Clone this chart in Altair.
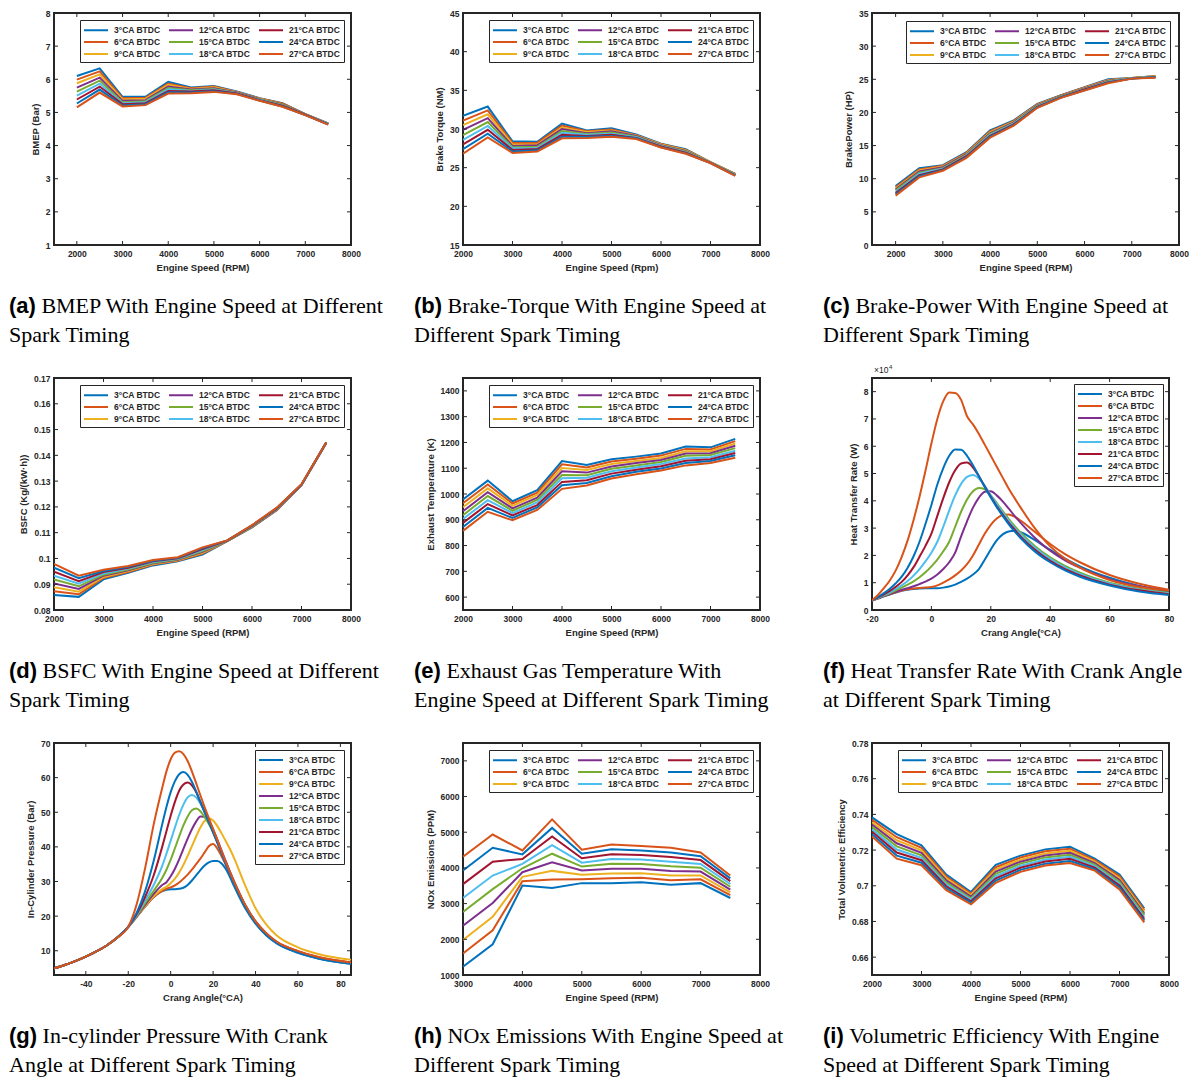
import altair as alt
import pandas as pd

# MATLAB default line colours
BLUE = "#0072BD"
ORANGE = "#D95319"
YELLOW = "#EDB120"
PURPLE = "#7E2F8E"
GREEN = "#77AC30"
SKY = "#4DBEEE"
RED = "#A2142F"
INK = "#262626"

TIMING = ["3°CA BTDC", "6°CA BTDC", "9°CA BTDC", "12°CA BTDC", "15°CA BTDC",
          "18°CA BTDC", "21°CA BTDC", "24°CA BTDC", "27°CA BTDC"]
TIMING_COLORS = [BLUE, ORANGE, YELLOW, PURPLE, GREEN, SKY, RED, BLUE, ORANGE]
HT_TIMING = ["3°CA BTDC", "6°CA BTDC", "12°CA BTDC", "15°CA BTDC",
             "18°CA BTDC", "21°CA BTDC", "24°CA BTDC", "27°CA BTDC"]
HT_COLORS = [BLUE, ORANGE, PURPLE, GREEN, SKY, RED, BLUE, ORANGE]

RPM = [2000, 2500, 3000, 3500, 4000, 4500, 5000, 5500, 6000, 6500, 7000, 7500]
RPM_NOX = [3000, 3500, 4000, 4500, 5000, 5500, 6000, 6500, 7000, 7500]

# one row per engine speed, one value per spark timing (3° ... 27° BTDC)
BMEP = [
    [6.10, 5.99, 5.88, 5.75, 5.63, 5.51, 5.39, 5.27, 5.15],
    [6.33, 6.24, 6.15, 6.05, 5.96, 5.87, 5.78, 5.69, 5.60],
    [5.47, 5.43, 5.39, 5.35, 5.31, 5.28, 5.25, 5.21, 5.18],
    [5.47, 5.44, 5.41, 5.37, 5.34, 5.31, 5.28, 5.25, 5.22],
    [5.92, 5.87, 5.83, 5.78, 5.74, 5.70, 5.65, 5.61, 5.57],
    [5.75, 5.73, 5.71, 5.69, 5.67, 5.65, 5.63, 5.60, 5.58],
    [5.80, 5.78, 5.76, 5.73, 5.71, 5.69, 5.67, 5.64, 5.62],
    [5.63, 5.62, 5.61, 5.60, 5.59, 5.58, 5.57, 5.56, 5.55],
    [5.43, 5.42, 5.41, 5.40, 5.39, 5.38, 5.37, 5.36, 5.35],
    [5.28, 5.27, 5.25, 5.24, 5.23, 5.21, 5.20, 5.18, 5.17],
    [4.95, 4.95, 4.94, 4.94, 4.94, 4.93, 4.93, 4.92, 4.92],
    [4.67, 4.67, 4.66, 4.66, 4.65, 4.65, 4.64, 4.64, 4.63],
]
TORQUE = [
    [31.7, 31.1, 30.5, 29.9, 29.2, 28.6, 28.0, 27.4, 26.8],
    [32.9, 32.4, 31.9, 31.4, 30.9, 30.4, 29.9, 29.4, 28.9],
    [28.4, 28.2, 28.0, 27.8, 27.65, 27.5, 27.3, 27.1, 26.9],
    [28.35, 28.2, 28.0, 27.9, 27.7, 27.55, 27.4, 27.25, 27.1],
    [30.7, 30.45, 30.2, 30.0, 29.75, 29.5, 29.25, 29.0, 28.8],
    [29.8, 29.7, 29.6, 29.45, 29.35, 29.25, 29.1, 29.0, 28.85],
    [30.1, 29.95, 29.8, 29.7, 29.55, 29.4, 29.25, 29.1, 29.0],
    [29.3, 29.2, 29.15, 29.1, 29.0, 28.95, 28.85, 28.8, 28.7],
    [28.1, 28.05, 28.0, 27.9, 27.85, 27.8, 27.75, 27.65, 27.6],
    [27.4, 27.3, 27.25, 27.15, 27.1, 27.0, 26.95, 26.85, 26.8],
    [25.7, 25.7, 25.7, 25.65, 25.65, 25.65, 25.6, 25.6, 25.6],
    [24.2, 24.2, 24.15, 24.1, 24.1, 24.05, 24.0, 24.0, 23.95],
]
POWER = [
    [8.9, 8.7, 8.5, 8.35, 8.2, 8.0, 7.85, 7.65, 7.45],
    [11.6, 11.4, 11.25, 11.1, 10.9, 10.75, 10.55, 10.4, 10.2],
    [12.05, 11.95, 11.85, 11.75, 11.6, 11.5, 11.4, 11.3, 11.2],
    [14.0, 13.9, 13.8, 13.7, 13.6, 13.5, 13.4, 13.25, 13.15],
    [17.3, 17.15, 17.0, 16.85, 16.75, 16.6, 16.45, 16.35, 16.2],
    [18.8, 18.7, 18.6, 18.5, 18.4, 18.3, 18.2, 18.1, 18.0],
    [21.3, 21.2, 21.15, 21.05, 21.0, 20.9, 20.85, 20.75, 20.7],
    [22.6, 22.55, 22.5, 22.45, 22.4, 22.35, 22.3, 22.25, 22.2],
    [23.8, 23.75, 23.7, 23.6, 23.55, 23.5, 23.45, 23.35, 23.3],
    [25.0, 24.9, 24.85, 24.8, 24.7, 24.65, 24.55, 24.5, 24.4],
    [25.2, 25.2, 25.2, 25.15, 25.15, 25.15, 25.1, 25.1, 25.1],
    [25.5, 25.45, 25.45, 25.4, 25.4, 25.35, 25.3, 25.3, 25.25],
]
BSFC = [
    [0.0858, 0.0873, 0.0888, 0.0903, 0.0918, 0.0933, 0.0949, 0.0964, 0.0979],
    [0.0851, 0.0861, 0.0871, 0.0882, 0.0892, 0.0902, 0.0912, 0.0923, 0.0933],
    [0.0919, 0.0924, 0.0928, 0.0933, 0.0937, 0.0942, 0.0947, 0.0951, 0.0956],
    [0.0944, 0.0947, 0.0951, 0.0954, 0.0957, 0.0961, 0.0964, 0.0968, 0.0971],
    [0.0973, 0.0976, 0.0978, 0.0981, 0.0983, 0.0986, 0.0989, 0.0991, 0.0994],
    [0.0989, 0.0991, 0.0993, 0.0995, 0.0997, 0.0999, 0.1001, 0.1003, 0.1005],
    [0.1015, 0.1019, 0.1022, 0.1026, 0.1029, 0.1033, 0.1036, 0.1040, 0.1043],
    [0.1067, 0.1067, 0.1068, 0.1068, 0.1068, 0.1069, 0.1069, 0.1070, 0.1070],
    [0.1120, 0.1121, 0.1122, 0.1123, 0.1124, 0.1126, 0.1127, 0.1128, 0.1129],
    [0.1187, 0.1188, 0.1189, 0.1190, 0.1192, 0.1193, 0.1194, 0.1196, 0.1197],
    [0.1284, 0.1284, 0.1285, 0.1285, 0.1286, 0.1286, 0.1287, 0.1287, 0.1288],
    [0.1448, 0.1448, 0.1449, 0.1449, 0.1449, 0.1450, 0.1450, 0.1451, 0.1451],
]
EXHAUST_T = [
    [979, 964, 949, 933, 918, 903, 888, 872, 857],
    [1052, 1037, 1022, 1007, 992, 976, 961, 946, 931],
    [972, 963, 954, 944, 935, 926, 917, 907, 898],
    [1015, 1005, 996, 986, 977, 967, 957, 948, 938],
    [1128, 1115, 1101, 1088, 1074, 1061, 1047, 1034, 1020],
    [1113, 1103, 1093, 1083, 1073, 1063, 1053, 1043, 1033],
    [1135, 1126, 1116, 1107, 1098, 1088, 1079, 1069, 1060],
    [1145, 1137, 1128, 1120, 1111, 1103, 1094, 1086, 1077],
    [1157, 1149, 1140, 1132, 1124, 1116, 1108, 1099, 1091],
    [1184, 1175, 1166, 1157, 1148, 1138, 1129, 1120, 1111],
    [1181, 1173, 1166, 1158, 1151, 1143, 1135, 1128, 1120],
    [1214, 1205, 1196, 1187, 1178, 1168, 1159, 1150, 1141],
]
NOX = [
    [1231, 1602, 1981, 2380, 2768, 3157, 3546, 3926, 4315],
    [1861, 2250, 2630, 3019, 3407, 3787, 4176, 4565, 4935],
    [3509, 3630, 3750, 3880, 3991, 4111, 4250, 4380, 4491],
    [3435, 3676, 3917, 4157, 4398, 4639, 4880, 5120, 5361],
    [3574, 3685, 3806, 3926, 4037, 4148, 4269, 4398, 4509],
    [3574, 3710, 3845, 3980, 4115, 4250, 4385, 4520, 4657],
    [3602, 3728, 3854, 3980, 4107, 4233, 4359, 4485, 4611],
    [3528, 3657, 3787, 3917, 4046, 4176, 4305, 4435, 4565],
    [3574, 3682, 3789, 3897, 4005, 4112, 4220, 4327, 4435],
    [3157, 3236, 3314, 3393, 3472, 3550, 3630, 3708, 3787],
]
VOL_EFF = [
    [0.7383, 0.7370, 0.7356, 0.7343, 0.7330, 0.7316, 0.7303, 0.7289, 0.7276],
    [0.7289, 0.7272, 0.7255, 0.7238, 0.7221, 0.7203, 0.7186, 0.7169, 0.7152],
    [0.7226, 0.7212, 0.7198, 0.7184, 0.7171, 0.7157, 0.7143, 0.7129, 0.7115],
    [0.7063, 0.7052, 0.7041, 0.7030, 0.7019, 0.7008, 0.6997, 0.6986, 0.6975],
    [0.6965, 0.6956, 0.6948, 0.6939, 0.6930, 0.6922, 0.6913, 0.6905, 0.6896],
    [0.7117, 0.7104, 0.7092, 0.7079, 0.7067, 0.7054, 0.7042, 0.7029, 0.7017],
    [0.7169, 0.7158, 0.7146, 0.7135, 0.7124, 0.7112, 0.7101, 0.7089, 0.7078],
    [0.7204, 0.7193, 0.7181, 0.7170, 0.7159, 0.7147, 0.7136, 0.7124, 0.7113],
    [0.7219, 0.7208, 0.7196, 0.7185, 0.7174, 0.7162, 0.7151, 0.7139, 0.7128],
    [0.7152, 0.7144, 0.7135, 0.7127, 0.7119, 0.7110, 0.7102, 0.7093, 0.7085],
    [0.7063, 0.7053, 0.7042, 0.7032, 0.7022, 0.7011, 0.7001, 0.6990, 0.6980],
    [0.6874, 0.6864, 0.6854, 0.6844, 0.6835, 0.6825, 0.6815, 0.6805, 0.6795],
]

# heat transfer rate (x10^4 W), one list per timing in HT_TIMING
HT_ANGLE = [-20, -18, -16, -14, -12, -10, -8, -6, -4, -2, 0, 2, 4, 6, 8, 10, 12, 14, 16,
            18, 20, 22, 24, 26, 28, 30, 35, 40, 45, 50, 60, 70, 80]
HEAT_RATE = [
    [0.35, 0.42, 0.50, 0.57, 0.64, 0.70, 0.74, 0.77, 0.79, 0.80, 0.80, 0.80, 0.82, 0.86, 0.93, 1.03, 1.15,
     1.30, 1.50, 1.85, 2.22, 2.55, 2.77, 2.88, 2.90, 2.85, 2.55, 2.20, 1.88, 1.60, 1.18, 0.88, 0.67],
    [0.35, 0.43, 0.51, 0.58, 0.65, 0.71, 0.76, 0.79, 0.81, 0.82, 0.84, 0.90, 1.00, 1.12, 1.27, 1.45, 1.68,
     2.00, 2.40, 2.80, 3.12, 3.35, 3.48, 3.50, 3.42, 3.28, 2.85, 2.42, 2.05, 1.75, 1.28, 0.96, 0.74],
    [0.35, 0.43, 0.51, 0.59, 0.67, 0.74, 0.80, 0.87, 0.95, 1.04, 1.15, 1.30, 1.50, 1.75, 2.10, 2.70, 3.25,
     3.75, 4.12, 4.33, 4.35, 4.20, 3.98, 3.72, 3.45, 3.20, 2.63, 2.17, 1.82, 1.55, 1.13, 0.87, 0.70],
    [0.35, 0.44, 0.53, 0.62, 0.72, 0.82, 0.93, 1.05, 1.20, 1.38, 1.60, 1.85, 2.15, 2.50, 3.05, 3.60, 4.05,
     4.35, 4.47, 4.42, 4.20, 3.92, 3.62, 3.34, 3.08, 2.84, 2.33, 1.93, 1.62, 1.37, 1.00, 0.78, 0.63],
    [0.35, 0.45, 0.55, 0.65, 0.77, 0.90, 1.06, 1.26, 1.50, 1.78, 2.10, 2.50, 3.05, 3.65, 4.20, 4.62, 4.88,
     4.95, 4.82, 4.55, 4.20, 3.88, 3.57, 3.28, 3.02, 2.78, 2.27, 1.87, 1.56, 1.32, 0.97, 0.75, 0.60],
    [0.35, 0.46, 0.57, 0.70, 0.85, 1.03, 1.27, 1.57, 1.95, 2.35, 2.80, 3.45, 4.10, 4.68, 5.12, 5.37, 5.40,
     5.22, 4.90, 4.52, 4.15, 3.80, 3.50, 3.20, 2.95, 2.70, 2.20, 1.80, 1.50, 1.27, 0.93, 0.72, 0.58],
    [0.35, 0.48, 0.62, 0.78, 0.98, 1.22, 1.55, 1.97, 2.50, 3.15, 3.85, 4.60, 5.20, 5.65, 5.88, 5.87, 5.65,
     5.30, 4.90, 4.50, 4.12, 3.77, 3.45, 3.15, 2.88, 2.64, 2.13, 1.75, 1.45, 1.22, 0.90, 0.68, 0.55],
    [0.35, 0.55, 0.80, 1.08, 1.45, 1.95, 2.55, 3.30, 4.15, 5.10, 6.10, 7.00, 7.65, 7.97, 7.95, 7.70, 7.10,
     6.80, 6.45, 6.05, 5.65, 5.25, 4.85, 4.45, 4.10, 3.76, 2.97, 2.33, 1.88, 1.55, 1.10, 0.84, 0.72],
]

# in-cylinder pressure (bar), one list per timing in TIMING
P_ANGLE = [-55, -50, -45, -40, -35, -30, -25, -20, -16, -12, -8, -4, -2, 0, 2, 4, 6, 8, 10, 12,
           14, 16, 18, 20, 22, 24, 26, 28, 30, 35, 40, 45, 50, 60, 70, 85]
PRESSURE = [
    [4.9, 5.9, 7.0, 8.3, 9.8, 11.6, 13.9, 16.9, 19.8, 22.8, 25.5, 27.2, 27.6, 27.8, 27.8, 27.9, 28.2, 29.0,
     30.3, 31.8, 33.3, 34.6, 35.5, 35.9, 35.9, 35.2, 33.6, 31.2, 28.5, 22.4, 17.8, 14.5, 12.1, 9.4, 7.7, 6.2],
    [4.9, 5.9, 7.0, 8.3, 9.8, 11.6, 13.9, 16.9, 19.8, 22.8, 25.5, 27.3, 27.9, 28.3, 28.9, 29.7, 30.8, 32.0,
     33.4, 35.0, 36.6, 38.4, 40.2, 40.8, 39.5, 37.3, 34.8, 32.2, 29.6, 23.3, 18.5, 15.1, 12.6, 9.9, 8.1, 6.6],
    [4.9, 5.9, 7.0, 8.3, 9.8, 11.6, 13.9, 16.9, 19.9, 23.0, 25.8, 27.8, 28.5, 29.5, 30.8, 32.6, 34.8, 37.4,
     40.2, 43.0, 45.6, 47.5, 48.2, 47.6, 46.0, 43.9, 41.6, 39.3, 36.6, 29.0, 22.3, 17.6, 14.4, 11.0, 9.0, 7.4],
    [4.9, 5.9, 7.0, 8.3, 9.8, 11.6, 13.9, 16.9, 20.0, 23.3, 26.4, 29.0, 29.8, 31.5, 33.7, 36.4, 39.4, 42.4,
     45.1, 47.3, 48.8, 48.7, 47.3, 45.0, 42.0, 38.9, 35.8, 32.8, 29.9, 23.4, 18.5, 15.0, 12.5, 9.8, 8.0, 6.5],
    [4.9, 5.9, 7.0, 8.3, 9.8, 11.6, 13.9, 16.9, 20.1, 23.8, 27.3, 31.0, 33.4, 36.3, 39.6, 43.0, 46.2, 48.8,
     50.6, 51.1, 50.3, 48.6, 46.6, 44.2, 41.3, 38.3, 35.3, 32.4, 29.6, 23.2, 18.3, 14.9, 12.4, 9.7, 7.9, 6.5],
    [4.9, 5.9, 7.0, 8.3, 9.8, 11.6, 13.9, 16.9, 20.3, 24.5, 29.0, 34.5, 38.0, 41.8, 45.6, 49.2, 52.2, 54.3,
     55.0, 54.3, 52.5, 50.0, 47.3, 44.4, 41.4, 38.3, 35.2, 32.2, 29.4, 23.1, 18.2, 14.8, 12.3, 9.6, 7.8, 6.4],
    [4.9, 5.9, 7.0, 8.3, 9.8, 11.6, 13.9, 16.9, 20.6, 25.6, 31.8, 40.0, 44.5, 49.0, 53.0, 56.2, 58.0, 58.6,
     57.8, 55.8, 53.0, 50.2, 47.3, 44.4, 41.4, 38.3, 35.2, 32.2, 29.4, 23.1, 18.3, 14.9, 12.4, 9.7, 7.9, 6.5],
    [4.9, 5.9, 7.0, 8.3, 9.8, 11.6, 13.9, 16.9, 21.0, 27.3, 36.0, 46.5, 51.5, 55.8, 59.0, 61.0, 61.6, 60.8,
     58.8, 56.0, 53.0, 50.0, 47.1, 44.2, 41.2, 38.1, 35.0, 32.0, 29.2, 22.9, 18.0, 14.6, 12.2, 9.5, 7.7, 6.3],
    [4.9, 5.9, 7.0, 8.3, 9.8, 11.6, 13.9, 16.9, 23.5, 34.0, 46.5, 57.0, 61.8, 65.3, 67.2, 67.6, 66.8, 64.8,
     61.8, 58.4, 54.9, 51.5, 48.3, 45.2, 42.0, 38.8, 35.6, 32.6, 29.8, 23.4, 18.5, 15.1, 12.6, 9.9, 8.1, 6.6],
]

H = 232
CAP = 22
BOLD_EM = {"a": 0.556, "b": 0.611, "c": 0.556, "d": 0.611, "e": 0.556,
           "f": 0.333, "g": 0.611, "h": 0.611, "i": 0.278}
ONE = pd.DataFrame({"k": [0]})


def by_speed(speeds, rows, labels):
    recs = [{"x": x, "y": v, "s": lab}
            for x, row in zip(speeds, rows) for lab, v in zip(labels, row)]
    return pd.DataFrame(recs)


def by_curve(angles, curves, labels):
    recs = [{"x": x, "y": v, "s": lab}
            for lab, curve in zip(labels, curves) for x, v in zip(angles, curve)]
    return pd.DataFrame(recs)


def note(text, x, y, **style):
    return alt.Chart(ONE).mark_text(text=text, align="left", baseline="alphabetic", **style).encode(
        x=alt.value(x), y=alt.value(y))


def panel(df, letter, caption, x_dom, x_ticks, x_title, y_dom, y_ticks, y_title,
          labels, colors, cols=3, width=297, offset=7, legend_xy=None, smooth=False,
          cap_x=-49, extra=()):
    X = alt.X("x:Q", title=x_title, scale=alt.Scale(domain=x_dom, nice=False, zero=False),
              axis=alt.Axis(values=x_ticks, labelExpr="'' + datum.value"))
    Y = alt.Y("y:Q", title=y_title, scale=alt.Scale(domain=y_dom, nice=False, zero=False),
              axis=alt.Axis(values=y_ticks, labelExpr="'' + datum.value"))
    # vega fills legend columns top to bottom, like matlab's NumColumns.
    # a long flat custom stroke keeps the rows short (row height follows symbolSize)
    place = dict(orient="top-right", offset=offset)
    if legend_xy:
        place = dict(orient="none", legendX=legend_xy[0], legendY=legend_xy[1])
    legend = alt.Legend(
        title=None, columns=cols, **place,
        symbolType="M-1,0H3", symbolSize=144, symbolStrokeWidth=2, labelOffset=17,
        labelFont="Liberation Sans", labelFontWeight="bold", labelFontSize=8.5, labelColor=INK,
        strokeColor=INK, fillColor="white", padding=3, rowPadding=0, columnPadding=4,
    )
    lines = alt.Chart(df).mark_line(
        strokeWidth=2, clip=True, interpolate="monotone" if smooth else "linear"
    ).encode(
        x=X, y=Y,
        color=alt.Color("s:N", scale=alt.Scale(domain=labels, range=colors), legend=legend),
    )

    # inward ticks on all four sides, MATLAB box style
    xt = pd.DataFrame({"x": x_ticks})
    yt = pd.DataFrame({"y": y_ticks})
    rule = dict(color=INK, strokeWidth=1)
    ticks = [
        alt.Chart(xt).mark_rule(**rule).encode(x=X, y=alt.value(H - 4), y2=alt.value(H)),
        alt.Chart(xt).mark_rule(**rule).encode(x=X, y=alt.value(0), y2=alt.value(4)),
        alt.Chart(yt).mark_rule(**rule).encode(y=Y, x=alt.value(0), x2=alt.value(4)),
        alt.Chart(yt).mark_rule(**rule).encode(y=Y, x=alt.value(width - 4), x2=alt.value(width)),
    ]

    shift = (0.666 + BOLD_EM[letter]) * CAP + 0.25 * CAP
    caps = [
        note(f"({letter})", cap_x, H + 68, font="Liberation Sans", fontWeight="bold", fontSize=CAP, color="black"),
        note(caption[0], cap_x + shift, H + 68, font="Liberation Serif", fontSize=CAP, color="black"),
        note(caption[1], cap_x, H + 97, font="Liberation Serif", fontSize=CAP, color="black"),
    ]
    return alt.layer(lines, *ticks, *caps, *extra).properties(width=width, height=H)


SPEED_TICKS = [2000, 3000, 4000, 5000, 6000, 7000, 8000]

a = panel(by_speed(RPM, BMEP, TIMING), "a", ("BMEP With Engine Speed at Different", "Spark Timing"),
          [1500, 8000], SPEED_TICKS, "Engine Speed (RPM)", [1, 8], [1, 2, 3, 4, 5, 6, 7, 8], "BMEP (Bar)",
          TIMING, TIMING_COLORS, cap_x=-45)
b = panel(by_speed(RPM, TORQUE, TIMING), "b", ("Brake-Torque With Engine Speed at", "Different Spark Timing"),
          [2000, 8000], SPEED_TICKS, "Engine Speed (Rpm)", [15, 45], [15, 20, 25, 30, 35, 40, 45],
          "Brake Torque (NM)", TIMING, TIMING_COLORS)
c = panel(by_speed(RPM, POWER, TIMING), "c", ("Brake-Power With Engine Speed at", "Different Spark Timing"),
          [1500, 8000], SPEED_TICKS, "Engine Speed (RPM)", [0, 35], [0, 5, 10, 15, 20, 25, 30, 35],
          "BrakePower (HP)", TIMING, TIMING_COLORS, width=307, legend_xy=(34, 8))
d = panel(by_speed(RPM, BSFC, TIMING), "d", ("BSFC With Engine Speed at Different", "Spark Timing"),
          [2000, 8000], SPEED_TICKS, "Engine Speed (RPM)", [0.08, 0.17],
          [0.08, 0.09, 0.1, 0.11, 0.12, 0.13, 0.14, 0.15, 0.16, 0.17], "BSFC (Kg/(kW·h))",
          TIMING, TIMING_COLORS, cap_x=-45)
e = panel(by_speed(RPM, EXHAUST_T, TIMING), "e", ("Exhaust Gas Temperature With", "Engine Speed at Different Spark Timing"),
          [2000, 8000], SPEED_TICKS, "Engine Speed (RPM)", [550, 1450],
          [600, 700, 800, 900, 1000, 1100, 1200, 1300, 1400], "Exhaust Temperature (K)", TIMING, TIMING_COLORS)
f = panel(by_curve(HT_ANGLE, HEAT_RATE, HT_TIMING), "f", ("Heat Transfer Rate With Crank Angle", "at Different Spark Timing"),
          [-20, 80], [-20, 0, 20, 40, 60, 80], "Crang Angle(°CA)", [0, 8.5], [0, 1, 2, 3, 4, 5, 6, 7, 8],
          "Heat Transfer Rate (W)", HT_TIMING, HT_COLORS, cols=1, offset=6, smooth=True,
          extra=(note("×10", 2, -5, font="Liberation Sans", fontSize=8.5, color=INK),
                 note("4", 17, -9, font="Liberation Sans", fontSize=6, color=INK)))
g = panel(by_curve(P_ANGLE, PRESSURE, TIMING), "g", ("In-cylinder Pressure With Crank", "Angle at Different Spark Timing"),
          [-55, 85], [-40, -20, 0, 20, 40, 60, 80], "Crang Angle(°CA)", [3, 70], [10, 20, 30, 40, 50, 60, 70],
          "In-Cylinder Pressure (Bar)", TIMING, TIMING_COLORS, cols=1, offset=7, smooth=True, cap_x=-45)
h = panel(by_speed(RPM_NOX, NOX, TIMING), "h", ("NOx Emissions With Engine Speed at", "Different Spark Timing"),
          [3000, 8000], [3000, 4000, 5000, 6000, 7000, 8000], "Engine Speed (RPM)", [1000, 7500],
          [1000, 2000, 3000, 4000, 5000, 6000, 7000], "NOx Emissions (PPM)", TIMING, TIMING_COLORS)
i = panel(by_speed(RPM, VOL_EFF, TIMING), "i", ("Volumetric Efficiency With Engine", "Speed at Different Spark Timing"),
          [2000, 8000], SPEED_TICKS, "Engine Speed (RPM)", [0.65, 0.78],
          [0.66, 0.68, 0.7, 0.72, 0.74, 0.76, 0.78], "Total Volumetric Efficiency", TIMING, TIMING_COLORS)

chart = (
    alt.concat(a, b, c, d, e, f, g, h, i, columns=3,
               spacing={"row": 133, "column": 112}, bounds="flush")
    .resolve_scale(x="independent", y="independent", color="independent")
    .resolve_legend(color="independent")
    .properties(padding=0, background="white")
    .configure_view(stroke=INK, strokeWidth=2)
    .configure_axis(
        grid=False, ticks=False, domain=False, labelFlush=False, labelOverlap=False,
        labelFont="Liberation Sans", labelFontWeight="bold", labelFontSize=8.5, labelColor=INK,
        labelPadding=4, titleFont="Liberation Sans", titleFontWeight="bold", titleFontSize=9.5,
        titleColor=INK, titlePadding=5,
    )
)

chart.save("out.html", embed_options={"renderer": "svg", "actions": False})
